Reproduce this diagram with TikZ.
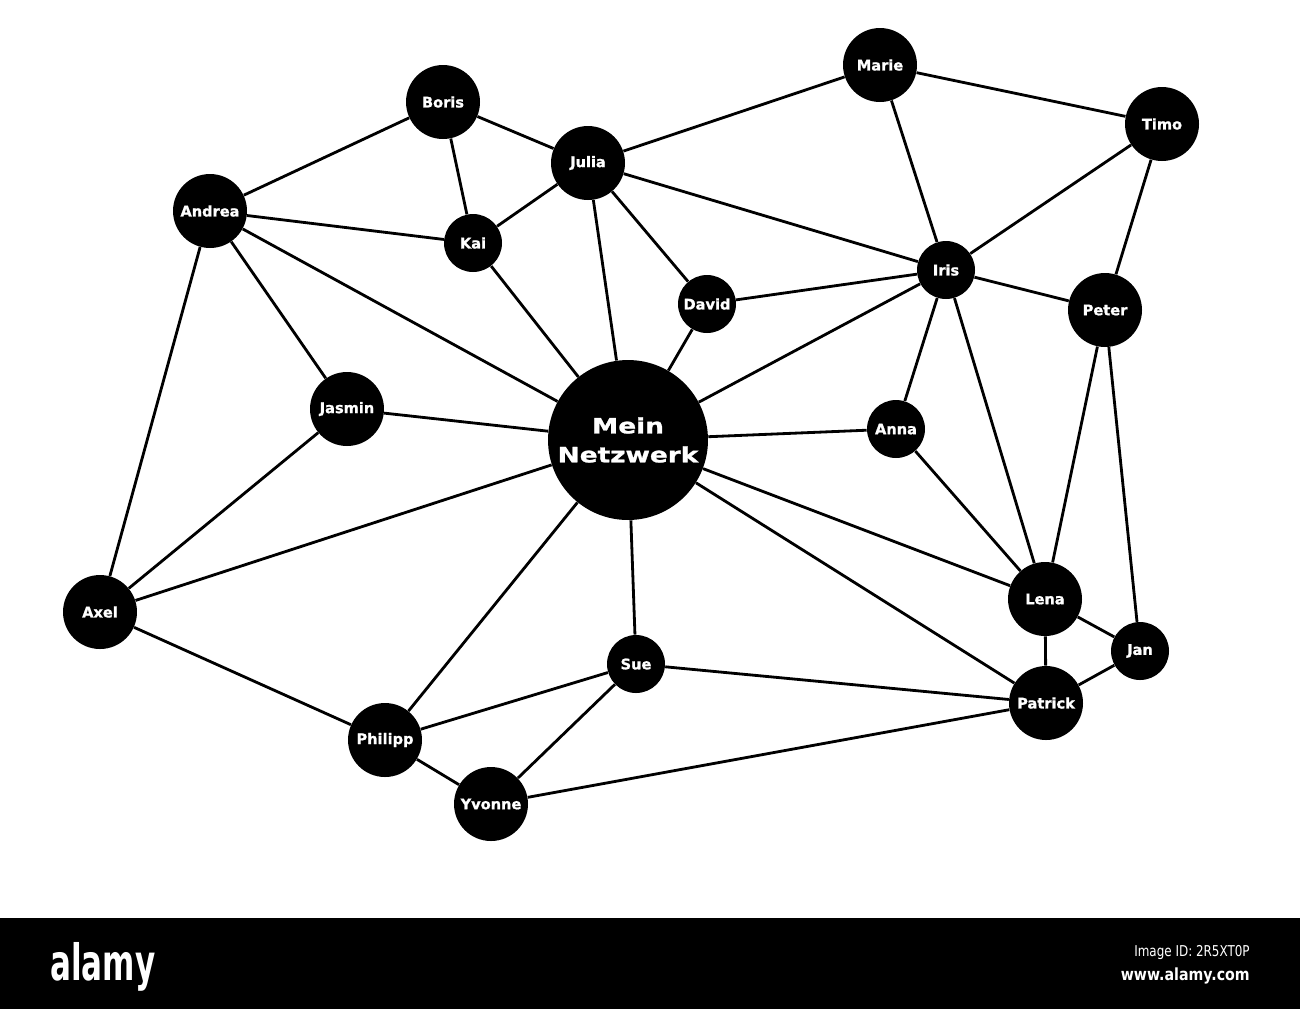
\documentclass[tikz,border=0pt]{standalone}
\usepackage{fontspec}
\setmainfont{DejaVu Sans}
\newfontfamily\namefont[FakeBold=1.2]{DejaVu Sans}
\newfontfamily\widefont[FakeStretch=1.25, FakeBold=1.2]{DejaVu Sans}
\newfontfamily\logofont[FakeStretch=0.62]{DejaVu Sans}
\newfontfamily\idfont[FakeStretch=0.8]{DejaVu Sans}
\newfontfamily\urlfont[FakeStretch=0.85]{DejaVu Sans}

\begin{document}
\begin{tikzpicture}[x=0.02cm, y=-0.02cm,
bignode/.style={circle, fill=black, inner sep=0pt, minimum size=1.48cm, text=white, font=\namefont\bfseries\fontsize{8.3}{9}\selectfont},
smallnode/.style={circle, fill=black, inner sep=0pt, minimum size=1.16cm, text=white, font=\namefont\bfseries\fontsize{8.3}{9}\selectfont},
hubnode/.style={circle, fill=black, inner sep=0pt, minimum size=3.2cm, text=white, align=center, font=\widefont\bfseries\fontsize{12}{16.5}\selectfont},
link/.style={line width=1.6pt}
]
\useasboundingbox (0,0) rectangle (1300,1009);

\node[hubnode] (Mein) at (628,440) {Mein\\Netzwerk};
\node[bignode] (Marie) at (880,65) {Marie};
\node[bignode] (Timo) at (1162,124) {Timo};
\node[bignode] (Boris) at (443,102) {Boris};
\node[bignode] (Julia) at (588,163) {Julia};
\node[bignode] (Andrea) at (210,211) {Andrea};
\node[smallnode] (Kai) at (473,243) {Kai};
\node[smallnode] (Iris) at (946,270) {Iris};
\node[smallnode] (David) at (707,304) {David};
\node[bignode] (Peter) at (1105,310) {Peter};
\node[bignode] (Jasmin) at (347,409) {Jasmin};
\node[smallnode] (Anna) at (896,429) {Anna};
\node[bignode] (Axel) at (100,612) {Axel};
\node[bignode] (Lena) at (1045,599) {Lena};
\node[smallnode] (Jan) at (1140,651) {Jan};
\node[smallnode] (Sue) at (636,664) {Sue};
\node[bignode] (Patrick) at (1046,703) {Patrick};
\node[bignode] (Philipp) at (385,740) {Philipp};
\node[bignode] (Yvonne) at (491,804) {Yvonne};

\draw[link] (Marie) -- (Julia);
\draw[link] (Marie) -- (Timo);
\draw[link] (Marie) -- (Iris);
\draw[link] (Timo) -- (Iris);
\draw[link] (Timo) -- (Peter);
\draw[link] (Boris) -- (Andrea);
\draw[link] (Boris) -- (Julia);
\draw[link] (Boris) -- (Kai);
\draw[link] (Julia) -- (Kai);
\draw[link] (Julia) -- (Iris);
\draw[link] (Julia) -- (David);
\draw[link] (Julia) -- (Mein);
\draw[link] (Andrea) -- (Kai);
\draw[link] (Andrea) -- (Mein);
\draw[link] (Andrea) -- (Jasmin);
\draw[link] (Andrea) -- (Axel);
\draw[link] (Kai) -- (Mein);
\draw[link] (David) -- (Iris);
\draw[link] (David) -- (Mein);
\draw[link] (Iris) -- (Peter);
\draw[link] (Iris) -- (Mein);
\draw[link] (Iris) -- (Anna);
\draw[link] (Iris) -- (Lena);
\draw[link] (Peter) -- (Lena);
\draw[link] (Peter) -- (Jan);
\draw[link] (Jasmin) -- (Mein);
\draw[link] (Jasmin) -- (Axel);
\draw[link] (Mein) -- (Anna);
\draw[link] (Mein) -- (Axel);
\draw[link] (Mein) -- (Lena);
\draw[link] (Mein) -- (Patrick);
\draw[link] (Mein) -- (Sue);
\draw[link] (Mein) -- (Philipp);
\draw[link] (Anna) -- (Lena);
\draw[link] (Lena) -- (Jan);
\draw[link] (Lena) -- (Patrick);
\draw[link] (Jan) -- (Patrick);
\draw[link] (Sue) -- (Patrick);
\draw[link] (Sue) -- (Philipp);
\draw[link] (Sue) -- (Yvonne);
\draw[link] (Axel) -- (Philipp);
\draw[link] (Philipp) -- (Yvonne);
\draw[link] (Yvonne) -- (Patrick);

% bottom bar
\fill[black] (0,918) rectangle (1300,1009);
\node[anchor=base west, inner sep=0pt, text=white, font=\logofont\bfseries\fontsize{28.5}{30}\selectfont] (logo) at (50,980) {alamy};
\node[anchor=east, inner sep=0pt, text=white, font=\idfont\fontsize{8.5}{10}\selectfont] (imageid) at (1250,952) {Image ID: 2R5XT0P};
\node[anchor=east, inner sep=0pt, text=white, font=\urlfont\bfseries\fontsize{9.5}{11}\selectfont] (url) at (1250,976) {www.alamy.com};
\end{tikzpicture}
\end{document}
